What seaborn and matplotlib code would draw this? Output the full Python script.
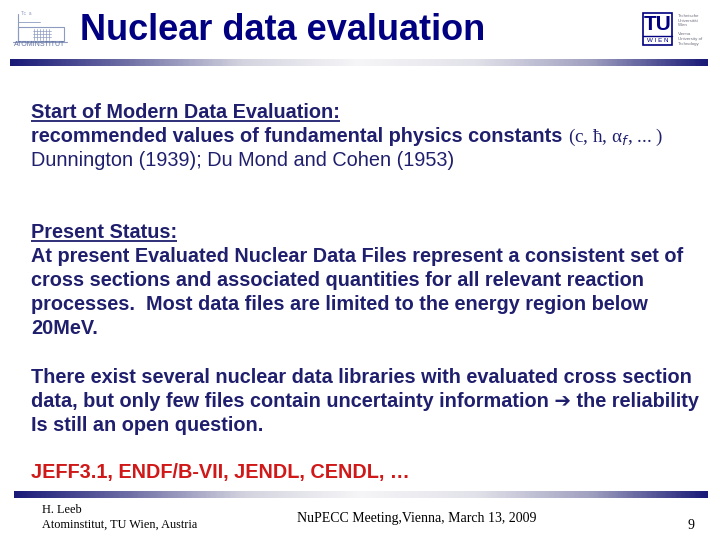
import numpy as np
import matplotlib
matplotlib.use("Agg")
import matplotlib.pyplot as plt
from matplotlib.patches import Rectangle
import seaborn as sns

# slide content
title = "Nuclear data evaluation"
block1_head = "Start of Modern Data Evaluation:"
block1_bold = "recommended values of fundamental physics constants "
block1_sym = "(c, \u0127, \u03b1$_f$, ... )"
block1_tail = "Dunnington (1939); Du Mond and Cohen (1953)"
block2_head = "Present Status:"
block2_lines = [
    "At present Evaluated Nuclear Data Files represent a consistent set of",
    "cross sections and associated quantities for all relevant reaction",
    "processes.  Most data files are limited to the energy region below",
    "20MeV.",
]
block3_lines = [
    "There exist several nuclear data libraries with evaluated cross section",
    "data, but only few files contain uncertainty information \u2794 the reliability",
    "Is still an open question.",
]
libraries = "JEFF3.1, ENDF/B-VII, JENDL, CENDL, \u2026"
footer_left = ["H. Leeb", "Atominstitut, TU Wien, Austria"]
footer_mid = "NuPECC Meeting,Vienna, March 13, 2009"
page_no = "9"
tu_text = ["Technische", "Universit\u00e4t", "Wien", "", "Vienna", "University of", "Technology"]

sns.set_theme(style="white")
plt.rcParams['font.family'] = ['Liberation Sans', 'DejaVu Sans']

navy = "#000080"
body = "#1f1f6e"
red = "#d01818"
serif = ['Liberation Serif', 'DejaVu Serif']

fig = plt.figure(figsize=(7.2, 5.4), dpi=100)
fig.patch.set_facecolor("white")
ax = fig.add_axes([0, 0, 1, 1])
ax.set_xlim(0, 720)
ax.set_ylim(540, 0)
ax.axis("off")
renderer = fig.canvas.get_renderer()
inv = ax.transData.inverted()


def right_edge(t):
    bb = t.get_window_extent(renderer)
    return inv.transform((bb.x1, bb.y0))[0]


def underline(t, y):
    bb = t.get_window_extent(renderer)
    x0 = inv.transform((bb.x0, bb.y0))[0]
    x1 = inv.transform((bb.x1, bb.y0))[0]
    ax.plot([x0, x1], [y, y], color=body, lw=1.3, solid_capstyle="butt")


# gradient rules
bar_cmap = sns.blend_palette(["#1a1a78", "#7070a6", "#d4d4e0", "#f6f6f8",
                              "#e2e2ea", "#a0a0c0", "#1a1a78"], as_cmap=True)
grad = np.linspace(0, 1, 400).reshape(1, -1)
ax.imshow(grad, extent=[10, 708, 66, 59], aspect="auto", cmap=bar_cmap, zorder=1)
ax.imshow(grad, extent=[14, 708, 498, 491], aspect="auto", cmap=bar_cmap, zorder=1)

# title
ax.text(80, 40, title, fontsize=26, fontweight="bold", color=navy, va="baseline")

# Atominstitut logo (sketch)
lc = "#8d9bc0"
ax.add_patch(Rectangle((18, 27), 46, 14, fill=False, ec=lc, lw=0.8))
ax.plot([18, 18], [14, 41], color=lc, lw=0.8)
ax.plot([18, 40], [22, 22], color=lc, lw=0.6)
for xx in range(34, 52, 3):
    ax.plot([xx, xx], [29, 40], color=lc, lw=0.5)
for yy in (31, 34, 37):
    ax.plot([33, 51], [yy, yy], color=lc, lw=0.5)
ax.plot([13, 67], [42, 42], color=lc, lw=0.8)
ax.text(21, 15, "Tc  a", fontsize=3.5, color=lc)
ax.text(40, 46.5, "ATOMINSTITUT", fontsize=5, color="#6070a0", ha="center", va="baseline")

# TU Wien logo (sketch)
ax.add_patch(Rectangle((643, 13), 29, 32, fill=False, ec=navy, lw=1.2))
ax.plot([643, 672], [36, 36], color=navy, lw=1.0)
ax.text(657.5, 25, "TU", fontsize=15, fontweight="bold", color=navy, ha="center", va="center")
ax.text(657.5, 41, "W I E N", fontsize=4.5, color=navy, ha="center", va="center")
for i, s in enumerate(tu_text):
    ax.text(678, 16 + i * 4.6, s, fontsize=3.2, color="#707080", va="center")

# block 1
fs = 14.3
t = ax.text(31, 118, block1_head, fontsize=fs, fontweight="bold", color=body, va="baseline")
underline(t, 121)
t = ax.text(31, 142, block1_bold, fontsize=fs, fontweight="bold", color=body, va="baseline")
ax.text(right_edge(t), 142, block1_sym, fontsize=fs - 0.5, family=serif, color=body, va="baseline")
ax.text(31, 166, block1_tail, fontsize=fs, color=body, va="baseline")

# block 2
t = ax.text(31, 238, block2_head, fontsize=fs, fontweight="bold", color=body, va="baseline")
underline(t, 241)
for i, s in enumerate(block2_lines):
    ax.text(31, 262 + 24 * i, s, fontsize=fs, fontweight="bold", color=body, va="baseline")

# block 3
for i, s in enumerate(block3_lines):
    ax.text(31, 383 + 24 * i, s, fontsize=fs, fontweight="bold", color=body, va="baseline")

ax.text(31, 478, libraries, fontsize=fs, fontweight="bold", color=red, va="baseline")

# footer
ax.text(42, 513, footer_left[0], fontsize=8.8, family=serif, color="black", va="baseline")
ax.text(42, 528, footer_left[1], fontsize=8.8, family=serif, color="black", va="baseline")
ax.text(297, 522, footer_mid, fontsize=10, family=serif, color="black", va="baseline")
ax.text(695, 529, page_no, fontsize=10, family=serif, color="black", va="baseline", ha="right")

fig.savefig("out.png", dpi=100, facecolor="white")
